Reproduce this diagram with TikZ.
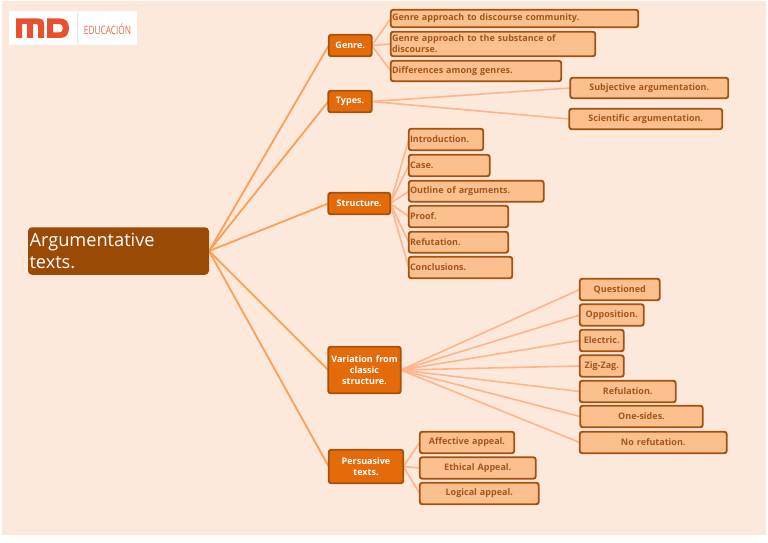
\documentclass[tikz,border=0pt]{standalone}
\usepackage{fontspec}
\setmainfont{Open Sans}
\usetikzlibrary{backgrounds}
\definecolor{bgpeach}{HTML}{FDE9DB}
\definecolor{rootfill}{HTML}{9A4A05}
\definecolor{parentfill}{HTML}{E56A0A}
\definecolor{boxline}{HTML}{A3520F}
\definecolor{childfill}{HTML}{FCC08E}
\definecolor{childtext}{HTML}{A5561C}
\definecolor{rootedge}{HTML}{FF9E57}
\definecolor{childedge}{HTML}{FFB48C}
\definecolor{logored}{HTML}{E8502F}
\tikzset{
  x=1pt,y=-1pt,
  boxbase/.style={rounded corners=2.5pt,line width=1.9pt,draw=boxline,inner sep=1pt,outer sep=0pt},
  rootbox/.style={rounded corners=4pt,fill=rootfill,text=white,font=\fontsize{18.2}{22}\selectfont,align=left,inner xsep=1.5pt,inner ysep=3pt,outer sep=0pt},
  parentbox/.style={boxbase,fill=parentfill,text=white,font=\fontsize{9}{11}\selectfont\bfseries,align=center},
  childbox/.style={boxbase,fill=childfill,text=childtext,font=\fontsize{9}{11}\selectfont\bfseries,align=center},
  childleft/.style={childbox,align=left,inner sep=0.5pt},
  rootlink/.style={draw=rootedge,line width=1.8pt},
  childlink/.style={draw=childedge,line width=1.6pt},
}
% name, x1, y1, x2, y2, style, text  (sizes leave room for the stroke)
\newcommand{\bx}[7]{%
  \pgfmathsetmacro{\bxw}{#4-#2-1.5}\pgfmathsetmacro{\bxh}{#5-#3-1.5}%
  \pgfmathsetmacro{\bxx}{(#2+#4)/2}\pgfmathsetmacro{\bxy}{(#3+#5)/2}%
  \pgfmathsetmacro{\bxt}{#4-#2-4}%
  \node[#6,minimum width=\bxw pt,minimum height=\bxh pt,text width=\bxt pt] (#1) at (\bxx,\bxy) {#7};}
\begin{document}
\begin{tikzpicture}
\useasboundingbox (0,0) rectangle (768,543);
% nodes
\bx{root}{27.5}{226.5}{209.5}{275.5}{rootbox}{Argumentative\\texts.}
\bx{genre}{328}{34}{372.5}{57}{parentbox}{Genre.}
\bx{types}{327.5}{90}{372.5}{113}{parentbox}{Types.}
\bx{structure}{327.5}{192}{391}{215}{parentbox}{Structure.}
\bx{variation}{327.5}{346}{401.5}{394}{parentbox}{Variation from\\classic\\structure.}
\bx{persuasive}{328}{449}{404}{484}{parentbox}{Persuasive\\texts.}
\bx{g1}{390}{9}{639}{28}{childleft}{Genre approach to discourse community.}
\bx{g2}{390}{31}{596}{57}{childleft}{Genre approach to the substance of\\discourse.}
\bx{g3}{390}{60}{562}{82}{childleft}{Differences among genres.}
\bx{t1}{569.5}{77}{729}{99}{childbox}{Subjective argumentation.}
\bx{t2}{568.5}{108}{723}{130}{childbox}{Scientific argumentation.}
\bx{s1}{408}{128}{484}{151}{childleft}{Introduction.}
\bx{s2}{408}{154}{490.5}{177}{childleft}{Case.}
\bx{s3}{408}{180}{544.5}{202.5}{childleft}{Outline of arguments.}
\bx{s4}{408}{205}{509}{228}{childleft}{Proof.}
\bx{s5}{408}{231}{509}{253.5}{childleft}{Refutation.}
\bx{s6}{408}{256}{513}{279}{childleft}{Conclusions.}
\bx{v1}{579}{278}{660.5}{301}{childbox}{Questioned}
\bx{v2}{579}{303.5}{644.5}{326.5}{childbox}{Opposition.}
\bx{v3}{579}{329}{624.5}{352}{childbox}{Electric.}
\bx{v4}{579}{354.5}{624.5}{377.5}{childbox}{Zig-Zag.}
\bx{v5}{579}{380}{676.5}{403}{childbox}{Refulation.}
\bx{v6}{579.5}{405}{703.5}{428}{childbox}{One-sides.}
\bx{v7}{579}{431}{727.5}{454}{childbox}{No refutation.}
\bx{p1}{419}{431}{515}{454}{childbox}{Affective appeal.}
\bx{p2}{419}{456.5}{536.5}{479.5}{childbox}{Ethical Appeal.}
\bx{p3}{419}{482}{539.5}{505}{childbox}{Logical appeal.}
% logo text
\node[inner sep=0pt,text=logored!85,font=\fontsize{11.5}{11.5}\selectfont,xscale=0.72] (logotext) at (107.5,29.5) {EDUCACIÓN};
\begin{scope}[on background layer]
\fill[white] (0,0) rectangle (768,543);
\fill[bgpeach] (2,1) rectangle (766,535);
% logo
\fill[white] (9,11) rectangle (137,45);
\fill[logored] (16,38) -- (16,18.5) -- (38,18.5) .. controls (42,18.5) and (44,20.5) .. (44,24) -- (44,38) -- (38,38) -- (38,25.5) .. controls (38,24.5) and (37.5,24) .. (36.5,24) -- (33,24) -- (33,38) -- (27,38) -- (27,24) -- (22,24) -- (22,38) -- cycle;
\fill[logored,even odd rule] (47,18.5) -- (60,18.5) .. controls (66,18.5) and (69,22) .. (69,28.2) .. controls (69,34.5) and (66,38) .. (60,38) -- (47,38) -- cycle (53,24) -- (53,32.5) -- (59,32.5) .. controls (61.5,32.5) and (63,31) .. (63,28.2) .. controls (63,25.5) and (61.5,24) .. (59,24) -- cycle;
\fill[black!12] (76.5,13) rectangle (77.5,43.5);
% connectors
\foreach \n in {genre,types,structure,variation,persuasive}
  \draw[rootlink] (root.east) -- (\n.west);
\foreach \n in {g1,g2,g3}
  \draw[childlink] (genre.east) -- (\n.west);
\foreach \n in {t1,t2}
  \draw[childlink] (types.east) -- (\n.west);
\foreach \n in {s1,s2,s3,s4,s5,s6}
  \draw[childlink] (structure.east) -- (\n.west);
\foreach \n in {v1,v2,v3,v4,v5,v6,v7}
  \draw[childlink] (variation.east) -- (\n.west);
\foreach \n in {p1,p2,p3}
  \draw[childlink] (persuasive.east) -- (\n.west);
\end{scope}
\end{tikzpicture}
\end{document}
